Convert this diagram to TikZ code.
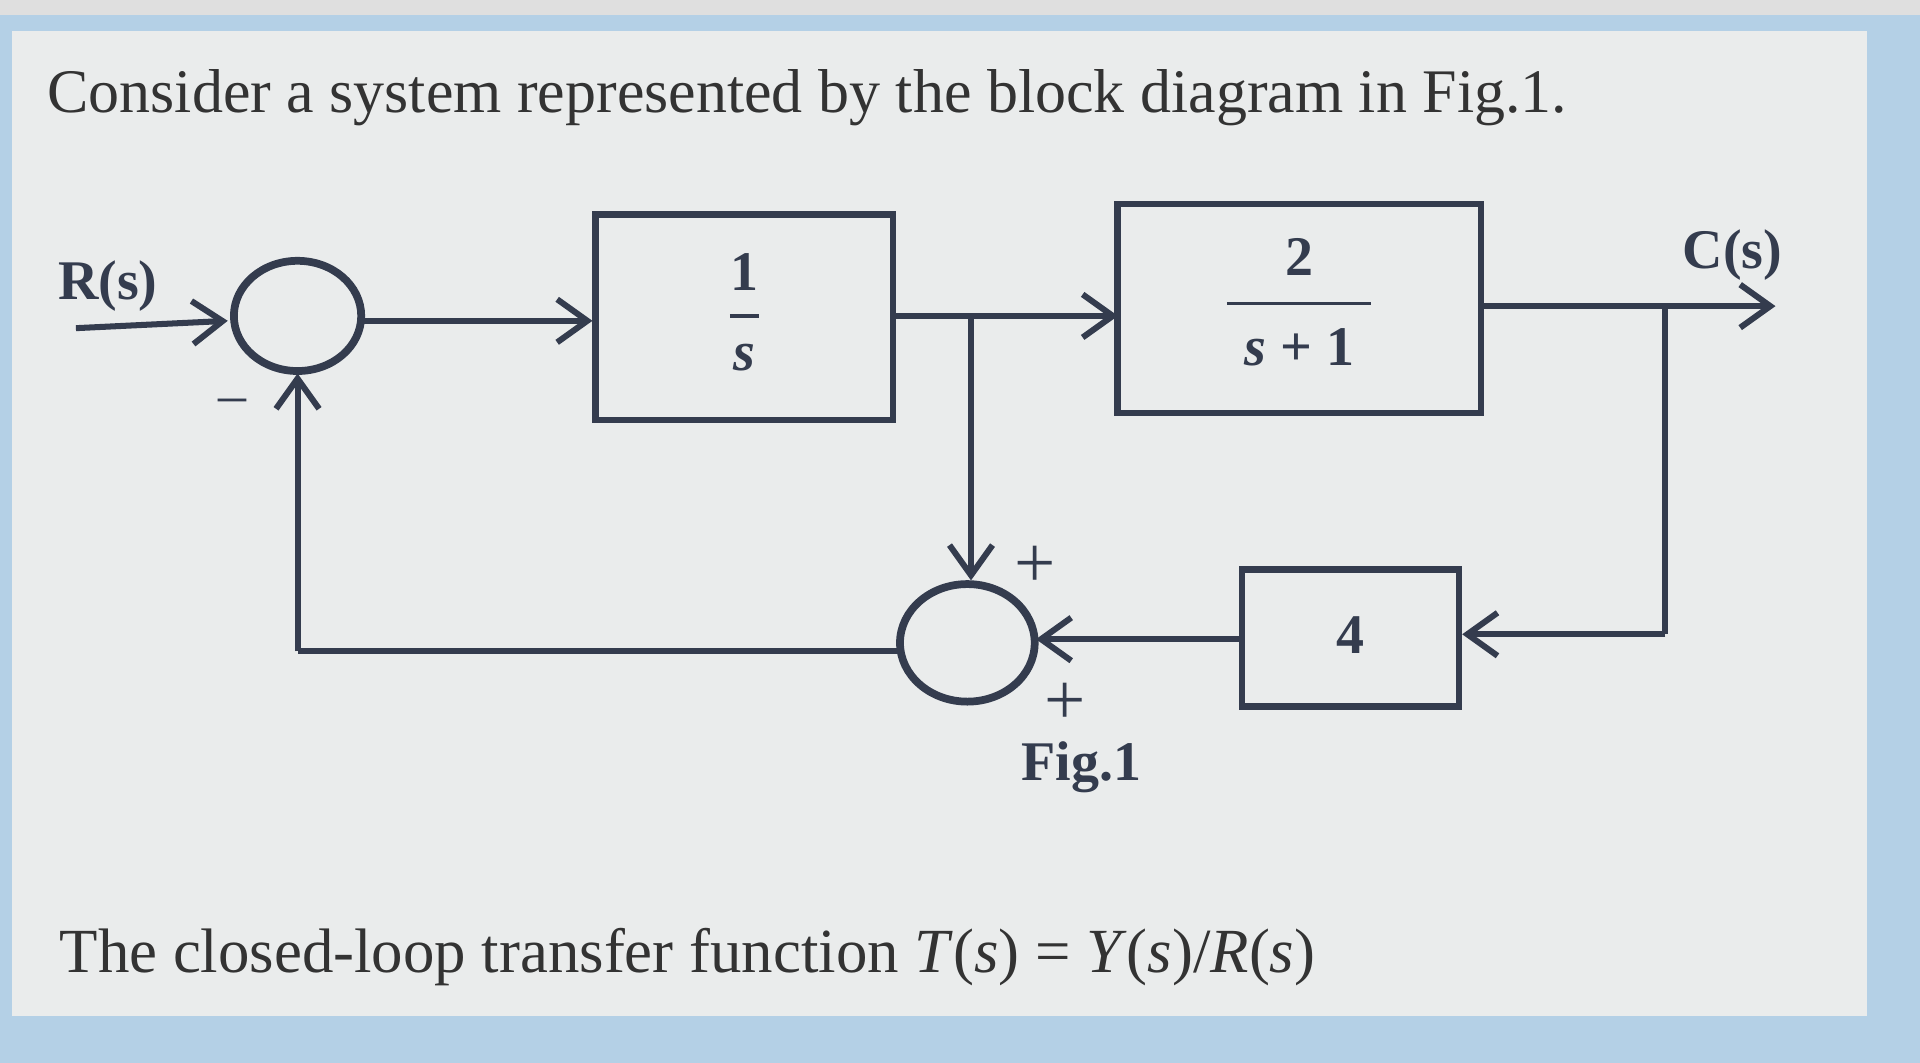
\documentclass[tikz,border=0pt]{standalone}
\usepackage{fontspec}
\setmainfont{Liberation Serif}
\usetikzlibrary{arrows.meta}
\definecolor{ln}{RGB}{52,60,78}
\definecolor{bgout}{RGB}{180,208,230}
\definecolor{panel}{RGB}{234,236,236}
\begin{document}
\begin{tikzpicture}[x=0.1mm,y=-0.1mm,
  blk/.style={draw=ln,line width=1.5pt,fill=none},
  sumc/.style={draw=ln,line width=1.8pt},
  wire/.style={draw=ln,line width=1.4pt},
  arr/.style={wire,-{Straight Barb[length=7pt,width=10pt,line width=1.4pt]}},
  lbl/.style={font=\fontsize{13}{15}\selectfont\bfseries,text=ln}]
\useasboundingbox (0,0) rectangle (1568,868);
\fill[bgout] (0,0) rectangle (1568,868);
\fill[gray!25] (0,0) rectangle (1568,12);
\fill[panel] (10,25) rectangle (1525,830);
\node[anchor=west,font=\fontsize{14.4}{18}\selectfont,text=black!80,inner sep=0pt] (title) at (38,80) {Consider a system represented by the block diagram in Fig.1.};
\node[blk,minimum width=243*0.1mm,minimum height=168*0.1mm] (b1) at (608,259) {};
\node[lbl] at (608,222) {1};
\draw[ln,line width=0.8pt] (596,258) -- (620,258);
\node[lbl,font=\fontsize{13}{15}\selectfont\bfseries\itshape] at (608,292) {s};
\node[blk,minimum width=297*0.1mm,minimum height=171*0.1mm] (b2) at (1061,252) {};
\node[lbl] at (1061,210) {2};
\draw[ln,line width=0.8pt] (1002,248) -- (1120,248);
\node[lbl] at (1061,284) {\textit{s} + 1};
\node[blk,minimum width=177*0.1mm,minimum height=112*0.1mm] (b3) at (1103,521) {};
\node[lbl] at (1103,519) {4};
\draw[sumc] (243,258) ellipse [x radius=52,y radius=45];
\coordinate (s1) at (243,258);
\draw[sumc] (790,525) ellipse [x radius=55,y radius=48];
\coordinate (s2) at (790,525);
\node[lbl] (R) at (88,234) {R(s)};
\node[lbl] (C) at (1415,208) {C(s)};
\coordinate (in) at (62,268);
\draw[arr] (in) -- (186,262);
\draw[arr] (295,262) -- (b1.west|-0,262);
\draw[arr] (730,258) -- (913,258);
\draw[arr] (793,258) -- (793,474);
\draw[arr] (1210,250) -- (1450,250);
\draw[wire] (1360,250) -- (1360,518);
\draw[arr] (1360,518) -- (b3.east|-0,518);
\draw[arr] (b3.west|-0,522) -- (846,522);
\draw[wire] (735,532) -- (243,532);
\draw[arr] (243,532) -- (243,305);
\node[lbl,font=\fontsize{13}{15}\selectfont] at (190,332) {--};
\node[lbl,font=\fontsize{17}{17}\selectfont] at (845,463) {+};
\node[lbl,font=\fontsize{17}{17}\selectfont] at (870,575) {+};
\node[lbl] (fig) at (883,627) {Fig.1};
\node[anchor=west,font=\fontsize{14.6}{18}\selectfont,text=black!80,inner sep=0pt] (bot) at (48,782) {The closed-loop transfer function \textit{T}(\textit{s}) = \textit{Y}(\textit{s})/\textit{R}(\textit{s})};
\end{tikzpicture}
\end{document}
